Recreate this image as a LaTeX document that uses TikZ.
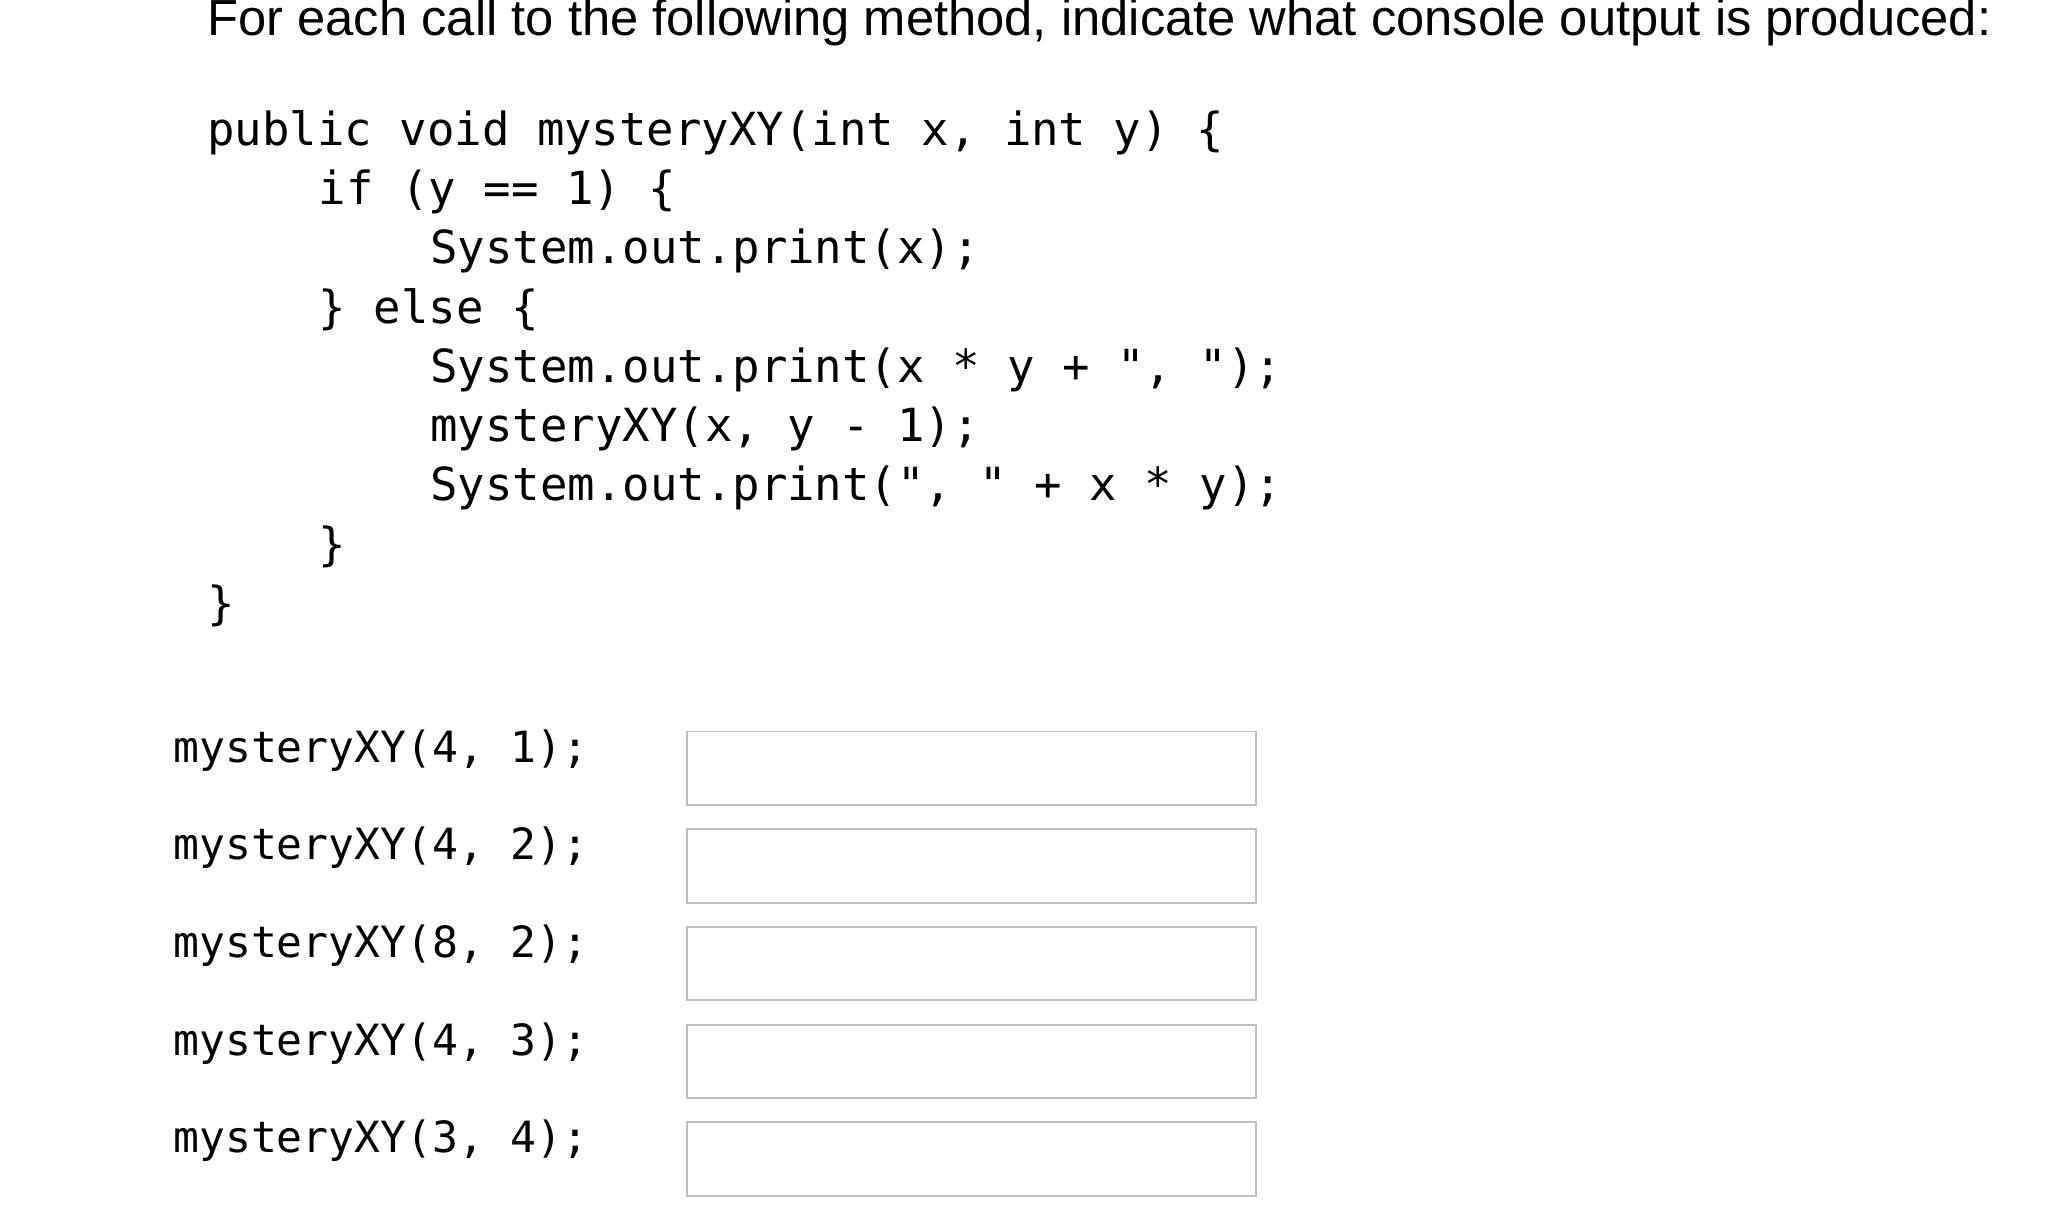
\documentclass[tikz,border=0pt]{standalone}
\usepackage{fontspec}
\setmainfont{Liberation Sans}
\setmonofont{DejaVu Sans Mono}
\begin{document}
\begin{tikzpicture}[x=0.05cm,y=-0.05cm,
  code/.style={anchor=west,inner sep=0,font=\ttfamily\fontsize{49.5}{49.5}\selectfont},
  call/.style={anchor=west,inner sep=0,font=\ttfamily\fontsize{46.7}{46.7}\selectfont},
  ansbox/.style={draw=black!25,line width=2pt,minimum width=434*0.05cm,minimum height=56*0.05cm,inner sep=0,anchor=north west}]
\useasboundingbox (0,0) rectangle (1560,937);
\node[anchor=west,inner sep=0,font=\fontsize{55}{55}\selectfont] (title) at (158,17) {For each call to the following method, indicate what console output is produced:};
\node[code] (l1) at (158,101) {public void mysteryXY(int x, int y) \{};
\node[code] (l2) at (243,146) {if (y == 1) \{};
\node[code] (l3) at (328,191) {System.out.print(x);};
\node[code] (l4) at (243,236) {\} else \{};
\node[code] (l5) at (328,282) {System.out.print(x * y + ", ");};
\node[code] (l6) at (328,327) {mysteryXY(x, y - 1);};
\node[code] (l7) at (328,372) {System.out.print(", " + x * y);};
\node[code] (l8) at (243,417) {\}};
\node[code] (l9) at (158,462) {\}};
\foreach \a/\b [count=\i] in {4/1,4/2,8/2,4/3,3/4}{
  \pgfmathsetmacro\yy{559+74.5*(\i-1)}
  \node[call] (c\i) at (132,\yy+13) {mysteryXY(\a, \b);};
  \node[ansbox] (b\i) at (523,\yy-2) {};
}
\end{tikzpicture}
\end{document}
